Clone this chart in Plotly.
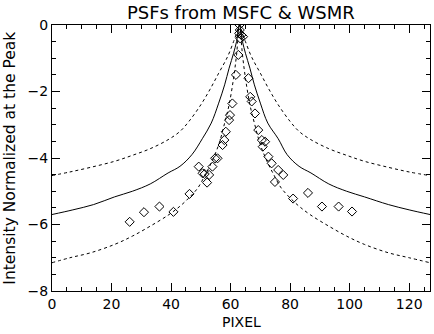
import plotly.graph_objects as go

# Curve samples (x in pixels, y = log intensity normalized at peak)
solid_x = [0, 7, 14, 21, 27, 33, 39, 43, 47, 50.5, 53.5, 56, 58, 59.5, 61, 62, 63,
           64, 65, 66.5, 68, 70, 72.5, 76, 79, 83, 87, 93, 99, 105, 113, 120, 127]
solid_y = [-5.7, -5.56, -5.4, -5.17, -5.0, -4.78, -4.45, -4.25, -3.9, -3.42, -2.95, -2.35, -1.8, -1.3, -0.85, -0.5, 0.0,
           -0.5, -0.85, -1.3, -1.8, -2.35, -2.95, -3.42, -3.9, -4.25, -4.45, -4.78, -5.0, -5.17, -5.4, -5.56, -5.7]

upper_x = [0, 6, 13, 21, 27, 33, 39, 43, 46, 50, 53, 56, 59, 61, 62, 63,
           64, 65, 67, 70, 73, 76, 80, 83, 87, 93, 99, 105, 113, 120, 127]
upper_y = [-4.53, -4.42, -4.28, -4.1, -3.92, -3.72, -3.45, -3.2, -2.9, -2.4, -1.95, -1.45, -0.95, -0.5, -0.25, 0.0,
           -0.25, -0.5, -0.95, -1.45, -1.95, -2.4, -2.9, -3.2, -3.45, -3.72, -3.92, -4.1, -4.28, -4.42, -4.53]

lower_x = [0, 6, 13, 21, 27, 33, 39, 43, 46, 49, 51.5, 53.5, 56, 58, 59.5, 61, 62, 63,
           64, 65, 66.5, 68, 70, 72.5, 74.5, 77, 80, 83, 87, 93, 99, 105, 113, 120, 127]
lower_y = [-7.15, -7.0, -6.85, -6.6, -6.35, -6.05, -5.72, -5.45, -5.2, -4.9, -4.5, -4.15, -3.6, -2.95, -2.4, -1.6, -0.9, 0.0,
           -0.9, -1.6, -2.4, -2.95, -3.6, -4.15, -4.5, -4.9, -5.2, -5.45, -5.72, -6.05, -6.35, -6.6, -6.85, -7.0, -7.15]

# Measured data points (diamonds)
data_x = [26.1, 30.9, 36.1, 40.8, 46.2, 49.3, 50.6, 51.3, 52.8, 52.1, 53.9, 54.8, 55.6, 57.3, 57.9,
          58.4, 59.5, 59.8, 60.6, 61.8, 62.6, 63.2, 63.0, 63.1, 62.9, 63.6, 64.2,
          66.0, 66.6, 67.1, 68.2, 69.3, 70.5, 71.6, 70.8, 72.7, 73.8, 76.0, 77.7, 74.9,
          81.0, 86.0, 90.7, 96.3, 100.8]
data_y = [-5.92, -5.63, -5.46, -5.62, -5.08, -4.26, -4.46, -4.48, -4.51, -4.74, -4.26, -4.01, -4.01, -3.61, -3.46,
          -3.21, -2.86, -2.71, -2.36, -1.5, -0.9, -0.4, 0.0, -0.15, -0.25, -0.3, -0.35,
          -1.6, -2.16, -2.3, -2.66, -3.16, -3.46, -3.51, -3.66, -3.96, -4.16, -4.36, -4.51, -4.72,
          -5.22, -5.05, -5.46, -5.46, -5.61]

x_ticks = [0, 20, 40, 60, 80, 100, 120]
y_ticks = [0, -2, -4, -6, -8]

FONT = "DejaVu Sans"

fig = go.Figure()
fig.add_trace(go.Scatter(x=upper_x, y=upper_y, mode="lines", line=dict(color="black", width=1, dash="dot", shape="spline")))
fig.add_trace(go.Scatter(x=solid_x, y=solid_y, mode="lines", line=dict(color="black", width=1, shape="spline")))
fig.add_trace(go.Scatter(x=lower_x, y=lower_y, mode="lines", line=dict(color="black", width=1, dash="dot", shape="spline")))
fig.add_trace(go.Scatter(x=data_x, y=data_y, mode="markers",
                         marker=dict(symbol="diamond-open", size=7, color="black", line=dict(width=1, color="black"))))

fig.update_layout(
    width=434, height=334,
    margin=dict(l=52, r=4, t=25, b=43, autoexpand=False),
    paper_bgcolor="white", plot_bgcolor="white",
    showlegend=False,
    font=dict(family=FONT, size=14, color="black"),
    title=dict(text="PSFs from MSFC & WSMR", x=0.555, xanchor="center", y=0.962, yanchor="middle",
               font=dict(family=FONT, size=18, color="black")),
    annotations=[
        dict(text="PIXEL", xref="paper", yref="paper", x=0.5, y=-0.117, xanchor="center", yanchor="middle",
             showarrow=False, font=dict(family=FONT, size=14, color="black")),
        dict(text="Intensity Normalized at the Peak", xref="paper", yref="paper", x=-0.112, y=0.5,
             xanchor="center", yanchor="middle", textangle=-90, showarrow=False,
             font=dict(family=FONT, size=15.5, color="black")),
    ],
)
fig.update_xaxes(range=[0, 127], tickvals=x_ticks, ticktext=[str(v) for v in x_ticks], automargin=False,
                 showgrid=False, zeroline=False, showline=True, linecolor="black", linewidth=1,
                 mirror="allticks", ticks="inside", ticklen=8, tickcolor="black",
                 minor=dict(dtick=5, ticks="inside", ticklen=4, tickcolor="black", showgrid=False),
                 tickfont=dict(size=14))
fig.update_yaxes(range=[-8, 0], tickvals=y_ticks, ticktext=["0", "\u22122", "\u22124", "\u22126", "\u22128"],
                 automargin=False,
                 showgrid=False, zeroline=False, showline=True, linecolor="black", linewidth=1,
                 mirror="allticks", ticks="inside", ticklen=8, tickcolor="black",
                 minor=dict(dtick=0.5, ticks="inside", ticklen=4, tickcolor="black", showgrid=False),
                 tickfont=dict(size=14))

fig.write_html("out.html", config={"displayModeBar": False},
               post_script="document.body.style.margin='0';document.body.style.padding='0';")
